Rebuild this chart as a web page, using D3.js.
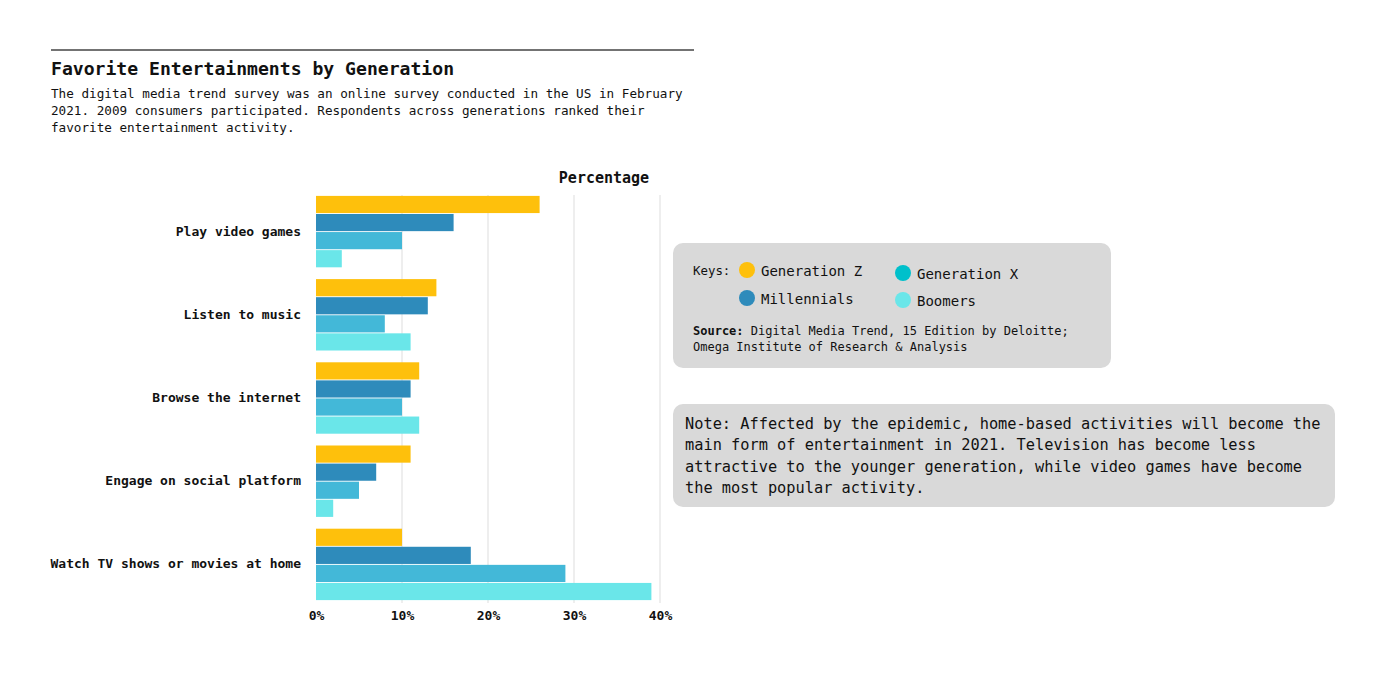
<!DOCTYPE html>
<html lang="en">
<head>
<meta charset="UTF-8">
<title>Favorite Entertainments by Generation</title>
<script src="https://d3js.org/d3.v7.min.js"></script>
<style>
  body { margin: 0; background: #fff; }
  svg text { font-family: "DejaVu Sans Mono", "Liberation Mono", monospace; fill: #111; }
</style>
</head>
<body>
<div id="chart"></div>
<script>
  const activities = ["Play video games", "Listen to music", "Browse the internet", "Engage on social platform", "Watch TV shows or movies at home"];
  const generations = ["Generation Z", "Millennials", "Generation X", "Boomers"];
  const genZ = [26, 14, 12, 11, 10];
  const millennials = [16, 13, 11, 7, 18];
  const genX = [10, 8, 10, 5, 29];
  const boomers = [3, 11, 12, 2, 39];
  const xTicks = [0, 10, 20, 30, 40];

  const barColors = ["#fec00c", "#2e8bbb", "#43b8d8", "#6ae6e9"];
  const keyColors = ["#fec00c", "#2e8bbb", "#00c0cb", "#6ae6e9"];

  const series = [genZ, millennials, genX, boomers];
  const rows = activities.map((a, i) => ({
    activity: a,
    values: generations.map((g, j) => ({ gen: g, value: series[j][i] }))
  }));

  const width = 1388, height = 674;
  const svg = d3.select("#chart").append("svg")
      .attr("width", width)
      .attr("height", height)
      .attr("viewBox", [0, 0, width, height]);

  // header
  svg.append("line")
      .attr("x1", 51).attr("x2", 694).attr("y1", 50).attr("y2", 50)
      .attr("stroke", "#444").attr("stroke-width", 1.3);
  svg.append("text")
      .attr("x", 51).attr("y", 75)
      .attr("font-size", 18.1).attr("font-weight", "bold")
      .text("Favorite Entertainments by Generation");
  const sub = ["The digital media trend survey was an online survey conducted in the US in February",
               "2021. 2009 consumers participated. Respondents across generations ranked their",
               "favorite entertainment activity."];
  svg.append("g").selectAll("text").data(sub).join("text")
      .attr("x", 51).attr("y", (d, i) => 98 + i * 17)
      .attr("font-size", 12.65)
      .text(d => d);

  // scales
  const x = d3.scaleLinear().domain([0, 40]).range([316, 660]);
  const y = d3.scaleBand().domain(activities).range([190, 606]).paddingInner(0.12).paddingOuter(0.06);
  const y1 = d3.scaleBand().domain(generations).range([0, y.bandwidth()]).padding(0.05);
  const color = d3.scaleOrdinal().domain(generations).range(barColors);

  // grid
  svg.append("g").selectAll("line").data(xTicks.slice(1)).join("line")
      .attr("x1", d => x(d)).attr("x2", d => x(d))
      .attr("y1", 195).attr("y2", 603)
      .attr("stroke", "#ddd").attr("stroke-width", 1);

  // bars
  svg.append("g").selectAll("g").data(rows).join("g")
      .attr("transform", d => `translate(0,${y(d.activity)})`)
    .selectAll("rect").data(d => d.values).join("rect")
      .attr("x", x(0))
      .attr("y", d => y1(d.gen))
      .attr("height", y1.bandwidth())
      .attr("width", d => x(d.value) - x(0))
      .attr("fill", d => color(d.gen));

  // y labels
  svg.append("g").selectAll("text").data(activities).join("text")
      .attr("x", 301).attr("y", d => y(d) + y.bandwidth() / 2 + 4)
      .attr("text-anchor", "end")
      .attr("font-size", 13).attr("font-weight", "bold")
      .text(d => d);

  // x axis
  const xAxis = svg.append("g")
      .attr("transform", "translate(0,603)")
      .call(d3.axisBottom(x).tickValues(xTicks).tickFormat(d => d + "%").tickSize(0).tickPadding(8));
  xAxis.select(".domain").remove();
  xAxis.selectAll("text")
      .attr("font-size", 13).attr("font-weight", "bold")
      .attr("font-family", "DejaVu Sans Mono, monospace").attr("fill", "#111");

  svg.append("text")
      .attr("x", 604).attr("y", 183)
      .attr("text-anchor", "middle")
      .attr("font-size", 15).attr("font-weight", "bold")
      .text("Percentage");

  // key box
  svg.append("rect")
      .attr("x", 673).attr("y", 243).attr("width", 438).attr("height", 125)
      .attr("rx", 10).attr("fill", "#d9d9d9");
  svg.append("text")
      .attr("x", 693).attr("y", 275).attr("font-size", 12.4).text("Keys:");
  const keyPos = [[747, 270], [747, 298], [903, 273], [903, 300]];
  const keys = svg.append("g").selectAll("g").data(generations).join("g")
      .attr("transform", (d, i) => `translate(${keyPos[i][0]},${keyPos[i][1]})`);
  keys.append("circle").attr("r", 8).attr("fill", (d, i) => keyColors[i]);
  keys.append("text").attr("x", 14).attr("y", 6).attr("font-size", 14).text(d => d);

  const src = svg.append("text").attr("x", 693).attr("y", 335).attr("font-size", 12);
  src.append("tspan").attr("font-weight", "bold").text("Source:");
  src.append("tspan").text(" Digital Media Trend, 15 Edition by Deloitte;");
  svg.append("text").attr("x", 693).attr("y", 351).attr("font-size", 12)
      .text("Omega Institute of Research & Analysis");

  // note box
  svg.append("rect")
      .attr("x", 673).attr("y", 404).attr("width", 662).attr("height", 103)
      .attr("rx", 10).attr("fill", "#d9d9d9");
  const note = ["Note: Affected by the epidemic, home-based activities will become the",
                "main form of entertainment in 2021. Television has become less",
                "attractive to the younger generation, while video games have become",
                "the most popular activity."];
  svg.append("g").selectAll("text").data(note).join("text")
      .attr("x", 685).attr("y", (d, i) => 429 + i * 21.3)
      .attr("font-size", 15.3)
      .text(d => d);
</script>
</body>
</html>
